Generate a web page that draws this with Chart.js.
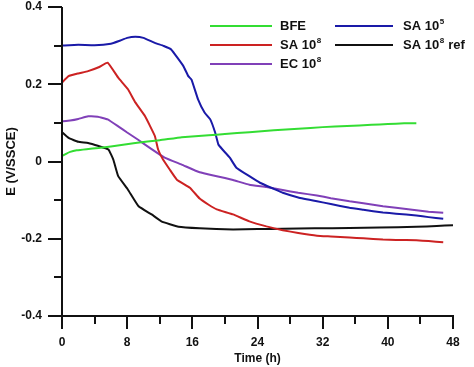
<!DOCTYPE html>
<html>
<head>
<meta charset="utf-8">
<script src="https://cdn.jsdelivr.net/npm/chart.js@4/dist/chart.umd.min.js"></script>
<style>
html,body{margin:0;padding:0;background:#fff;}
#wrap{width:474px;height:367px;position:relative;}
</style>
</head>
<body>
<div id="wrap"><canvas id="c" width="474" height="367"></canvas></div>
<script>
// ---- data ----
const yTickLabels = ["0.4", "0.2", "0", "-0.2", "-0.4"];
const xTickLabels = ["0", "8", "16", "24", "32", "40", "48"];

const bfeT = [0, 0.5, 1, 1.8, 3, 4.5, 6, 9, 12, 14.7, 18, 20, 23, 26, 29, 32, 35, 38, 40, 42, 43.5];
const bfeE = [0.014, 0.02, 0.025, 0.029, 0.032, 0.035, 0.039, 0.048, 0.055, 0.063, 0.068, 0.071, 0.076, 0.081, 0.085, 0.089, 0.092, 0.095, 0.097, 0.099, 0.099];

const sa5T = [0, 2, 4, 6, 7, 8, 9, 10, 11.4, 12.5, 13.4, 14.9, 15.5, 15.9, 16.7, 17.5, 18.2, 18.8, 19.2, 19.7, 20.6, 21.4, 23, 24.3, 25.9, 27.1, 29, 31.3, 33, 35.3, 37, 39.4, 41, 43.5, 45, 46.8];
const sa5E = [0.300, 0.302, 0.301, 0.305, 0.312, 0.320, 0.323, 0.320, 0.307, 0.299, 0.290, 0.247, 0.221, 0.212, 0.161, 0.127, 0.109, 0.075, 0.044, 0.031, 0.010, -0.016, -0.038, -0.055, -0.070, -0.081, -0.093, -0.103, -0.110, -0.120, -0.125, -0.132, -0.135, -0.140, -0.144, -0.148];

const sa8T = [0, 0.8, 2, 3.2, 4.5, 5.6, 6.9, 8.1, 9, 10.2, 11.4, 11.8, 12.4, 13.2, 14.1, 15.7, 16.9, 18, 19, 21, 23, 25.1, 27.1, 29, 31.3, 33, 35.3, 37, 39.4, 41, 43.5, 45, 46.8];
const sa8E = [0.204, 0.221, 0.228, 0.234, 0.244, 0.256, 0.217, 0.187, 0.153, 0.117, 0.066, 0.031, 0.005, -0.020, -0.047, -0.068, -0.096, -0.112, -0.124, -0.137, -0.155, -0.168, -0.178, -0.185, -0.192, -0.194, -0.197, -0.199, -0.202, -0.203, -0.204, -0.206, -0.209];

const ec8T = [0, 1, 2, 3.2, 4.4, 5.6, 6.9, 8, 9.3, 11, 12.6, 14.7, 16.9, 19, 21, 23, 25.1, 27.1, 29, 31.3, 33, 35.3, 37, 39.4, 41, 43.5, 45, 46.8];
const ec8E = [0.104, 0.106, 0.110, 0.117, 0.116, 0.109, 0.091, 0.075, 0.057, 0.032, 0.010, -0.008, -0.028, -0.038, -0.048, -0.060, -0.066, -0.074, -0.081, -0.088, -0.095, -0.103, -0.108, -0.116, -0.120, -0.126, -0.130, -0.133];

const refT = [0, 0.8, 2, 3.2, 4.5, 5.7, 6.3, 6.9, 8.1, 9.4, 11, 12.2, 14.3, 16.9, 21, 24, 27.1, 31, 35.3, 39, 43.5, 46, 48];
const refE = [0.076, 0.061, 0.051, 0.048, 0.040, 0.031, 0.005, -0.038, -0.073, -0.116, -0.137, -0.155, -0.169, -0.173, -0.176, -0.175, -0.174, -0.173, -0.172, -0.171, -0.169, -0.167, -0.165];

const seriesLabels = ["BFE", "SA 10⁵", "SA 10⁸", "SA 10⁸ ref", "EC 10⁸"];
const seriesColors = ["#33dd33", "#1a1aa8", "#cc2222", "#111111", "#8040b8"];

function pts(t, e) { return t.map((x, i) => ({x: x, y: e[i]})); }
const seriesData = [pts(bfeT, bfeE), pts(sa5T, sa5E), pts(sa8T, sa8E), pts(refT, refE), pts(ec8T, ec8E)];

const FONT = "'Liberation Sans', Arial, sans-serif";

// legend positions (column/row slots)
const legendSlots = [[0,0],[1,0],[0,1],[1,1],[0,2]];

const axesPlugin = {
  id: 'axesPlugin',
  afterDatasetsDraw(chart) {
    const ctx = chart.ctx;
    const xs = chart.scales.x, ys = chart.scales.y;
    const L = chart.chartArea.left, B = chart.chartArea.bottom, T = chart.chartArea.top, R = chart.chartArea.right;
    ctx.save();
    ctx.strokeStyle = '#111';
    ctx.lineWidth = 2;
    ctx.lineCap = 'butt';
    ctx.beginPath();
    ctx.moveTo(L, T); ctx.lineTo(L, B);
    ctx.moveTo(L, B); ctx.lineTo(R + 1, B);
    for (let k = -4; k <= 4; k++) {
      const v = k / 10;
      const py = Math.round(ys.getPixelForValue(v));
      const len = (k % 2 === 0) ? 14 : 8;
      ctx.moveTo(L - len, py); ctx.lineTo(L, py);
    }
    for (let h = 0; h <= 48; h += 4) {
      const px = Math.round(xs.getPixelForValue(h));
      const len = (h % 8 === 0) ? 13 : 8;
      ctx.moveTo(px, B); ctx.lineTo(px, B + len);
    }
    ctx.stroke();
    ctx.restore();
  },
  afterDraw(chart) {
    const ctx = chart.ctx;
    const colLine = [[210, 272], [335, 393]];
    const colText = [280, 403];
    const rowY = [26, 45, 64];
    ctx.save();
    chart.data.datasets.forEach((ds, i) => {
      const [c, r] = legendSlots[i];
      const y = rowY[r];
      ctx.strokeStyle = ds.borderColor;
      ctx.lineWidth = 2;
      ctx.beginPath();
      ctx.moveTo(colLine[c][0], y); ctx.lineTo(colLine[c][1], y);
      ctx.stroke();
      const sup = {'⁵':'5','⁸':'8'};
      let x = colText[c];
      ctx.fillStyle = '#111';
      ctx.textBaseline = 'middle';
      ctx.textAlign = 'left';
      let buf = '';
      const flush = () => {
        if (buf) { ctx.font = "bold 13px " + FONT; ctx.fillText(buf, x, y + 0.5); x += ctx.measureText(buf).width; buf = ''; }
      };
      for (const ch of ds.label) {
        if (sup[ch]) {
          flush();
          ctx.font = "bold 8px " + FONT;
          ctx.fillText(sup[ch], x + 0.5, y - 4);
          x += ctx.measureText(sup[ch]).width + 1;
        } else buf += ch;
      }
      flush();
    });
    ctx.restore();
  }
};

new Chart(document.getElementById('c'), {
  type: 'line',
  data: {
    datasets: seriesData.map((d, i) => ({
      label: seriesLabels[i],
      data: d,
      borderColor: seriesColors[i],
      backgroundColor: seriesColors[i],
      borderWidth: 2,
      pointRadius: 0,
      tension: 0.1,
      fill: false
    }))
  },
  options: {
    responsive: false,
    animation: false,
    devicePixelRatio: 1,
    layout: { padding: { top: 7, right: 21, left: 0, bottom: 0 } },
    plugins: { legend: { display: false }, tooltip: { enabled: false } },
    scales: {
      x: {
        type: 'linear', min: 0, max: 48,
        afterFit(s) { s.height = 51; s.paddingLeft = 0; s.paddingRight = 0; },
        grid: { display: false, drawTicks: false },
        border: { display: false },
        ticks: {
          stepSize: 8, padding: 19, color: '#111', maxRotation: 0,
          font: { family: FONT, size: 12, weight: 'bold' },
          callback: (v) => xTickLabels[Math.round(v / 8)] ?? ''
        },
        title: { display: true, text: 'Time (h)', color: '#111', padding: { top: 0, bottom: 1 },
                 font: { family: FONT, size: 12, weight: 'bold' } }
      },
      y: {
        type: 'linear', min: -0.4, max: 0.4,
        afterFit(s) { s.width = 62; s.paddingTop = 0; s.paddingBottom = 0; },
        grid: { display: false, drawTicks: false },
        border: { display: false },
        ticks: {
          stepSize: 0.2, padding: 20, color: '#111',
          font: { family: FONT, size: 12, weight: 'bold' },
          callback: (v) => yTickLabels[Math.round((0.4 - v) / 0.2)] ?? ''
        },
        title: { display: true, text: 'E (V/SSCE)', color: '#111', padding: { top: 4, bottom: 0 },
                 font: { family: FONT, size: 13, weight: 'bold' } }
      }
    }
  },
  plugins: [axesPlugin]
});
</script>
</body>
</html>
